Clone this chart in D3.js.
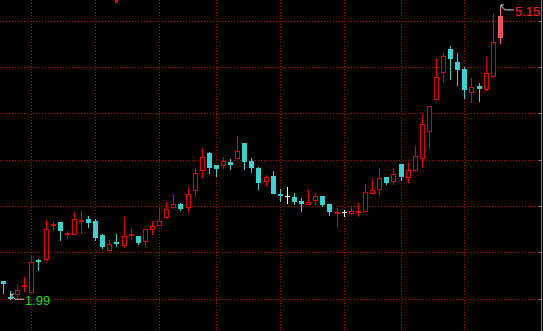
<!DOCTYPE html>
<html>
<head>
<meta charset="utf-8">
<script src="https://cdn.jsdelivr.net/npm/d3@7"></script>
<style>
  html, body { margin: 0; padding: 0; background: #000; overflow: hidden; }
  svg { display: block; }
</style>
</head>
<body>
<div class="chart"></div>
<script>
// daily candles
const opens  = [2.20,2.03,2.06,2.14,2.08,2.42,2.44,2.80,2.83,2.70,2.71,2.85,2.87,2.85,2.69,2.53,2.62,2.59,2.69,2.68,2.63,2.76,2.80,2.89,3.00,3.03,3.00,3.18,3.39,3.58,3.45,3.45,3.48,3.53,3.69,3.49,3.42,3.28,3.33,3.14,3.12,3.10,3.06,3.03,3.07,3.12,3.03,2.93,2.94,2.93,2.94,2.95,3.15,3.19,3.32,3.28,3.46,3.32,3.40,3.52,3.82,4.16,4.45,4.70,4.56,4.49,4.24,4.30,4.27,4.41,4.83];
const highs  = [2.20,2.09,2.15,2.24,2.47,2.44,2.86,2.83,2.83,2.74,2.94,2.95,2.90,2.87,2.70,2.64,2.70,2.89,2.77,2.68,2.76,2.84,2.99,3.05,3.14,3.04,3.21,3.42,3.63,3.59,3.45,3.54,3.51,3.76,3.69,3.52,3.43,3.34,3.38,3.19,3.21,3.15,3.09,3.18,3.15,3.12,3.03,2.99,2.96,3.00,3.04,3.24,3.30,3.42,3.32,3.42,3.46,3.47,3.65,4.00,4.09,4.60,4.66,4.73,4.66,4.51,4.39,4.33,4.61,5.08,5.15];
const lows   = [2.06,1.99,2.01,2.08,2.08,2.31,2.40,2.74,2.63,2.65,2.71,2.70,2.77,2.63,2.54,2.53,2.56,2.55,2.64,2.59,2.56,2.69,2.80,2.87,2.97,2.95,2.93,3.10,3.31,3.35,3.32,3.41,3.40,3.51,3.40,3.36,3.18,3.22,3.14,3.05,3.03,3.02,2.94,3.02,3.02,3.00,2.90,2.78,2.89,2.91,2.89,2.95,3.15,3.12,3.23,3.23,3.28,3.25,3.38,3.42,3.62,4.16,4.35,4.37,4.30,4.16,4.12,4.13,4.25,4.39,4.76];
const closes = [2.16,2.01,2.10,2.15,2.40,2.40,2.76,2.81,2.74,2.72,2.87,2.86,2.82,2.66,2.56,2.60,2.60,2.68,2.70,2.61,2.76,2.79,2.85,2.97,3.03,2.97,3.14,3.36,3.54,3.42,3.41,3.49,3.45,3.60,3.48,3.42,3.26,3.32,3.14,3.11,3.12,3.05,3.03,3.05,3.11,3.02,2.94,2.94,2.94,2.95,2.95,3.16,3.18,3.31,3.26,3.35,3.32,3.40,3.55,3.89,4.09,4.40,4.63,4.59,4.47,4.26,4.29,4.27,4.44,4.78,5.06];

const priceTicks = [2.0, 2.5, 3.0, 3.5, 4.0, 4.5, 5.0];
const monthStarts = [4, 13, 22, 30, 39, 48, 56, 65];  // day index of each month's first bar
const flagDays = [16];

const width = 543, height = 331;
const axisX = 541.5;
const upColor = '#e40000', downColor = '#3fcfcf', flatColor = '#ffffff';
const gridColor = '#b40000';

const data = opens.map((o, i) => ({i, o, h: highs[i], l: lows[i], c: closes[i]}));
const lastIdx = data.length - 1;

const x = d3.scaleLinear().domain([0, lastIdx]).range([2.9, 499.9]);
const y = d3.scaleLinear().domain([2, 5]).range([299.3, 21.3]);
const px = v => Math.round(v) + 0.5;

const svg = d3.select('.chart').append('svg')
    .attr('width', width)
    .attr('height', height)
    .style('background', '#000');

// grid
const grid = svg.append('g').attr('class', 'grid')
    .attr('stroke', gridColor)
    .attr('stroke-dasharray', '1,2');

grid.selectAll('.hline')
  .data(priceTicks)
  .enter().append('line')
    .attr('class', 'hline')
    .attr('x1', 0).attr('x2', axisX)
    .attr('y1', d => Math.floor(y(d)) + 0.5)
    .attr('y2', d => Math.floor(y(d)) + 0.5);

grid.selectAll('.vline')
  .data(monthStarts)
  .enter().append('line')
    .attr('class', 'vline')
    .attr('x1', d => px(x(d))).attr('x2', d => px(x(d)))
    .attr('y1', 0).attr('y2', height);

// right axis border with small ticks
const axis = svg.append('g').attr('stroke', '#808080');
axis.append('line')
    .attr('x1', axisX).attr('x2', axisX)
    .attr('y1', 0).attr('y2', height);
axis.selectAll('.tick')
  .data(priceTicks)
  .enter().append('line')
    .attr('x1', axisX - 3).attr('x2', axisX)
    .attr('y1', d => Math.floor(y(d)) + 0.5)
    .attr('y2', d => Math.floor(y(d)) + 0.5);

// event flags at the top edge
svg.selectAll('.flag')
  .data(flagDays)
  .enter().append('rect')
    .attr('x', d => Math.round(x(d)) - 1)
    .attr('y', 0)
    .attr('width', 3)
    .attr('height', 3)
    .attr('fill', upColor);

// candles
const candles = svg.append('g').attr('class', 'candles')
  .selectAll('g')
  .data(data)
  .enter().append('g');

candles.each(function (d) {
  const g = d3.select(this);
  const cx = px(x(d.i));
  const top = Math.round(y(Math.max(d.o, d.c)));
  const bot = Math.round(y(Math.min(d.o, d.c)));
  const yh = Math.round(y(d.h)), yl = Math.round(y(d.l));

  if (d.i === lastIdx) {
    g.append('line').attr('x1', cx).attr('x2', cx).attr('y1', yh).attr('y2', yl)
        .attr('stroke', '#ee6a6a');
    g.append('rect')
        .attr('x', cx - 2).attr('y', top + 0.5)
        .attr('width', 4).attr('height', Math.max(bot - top, 1))
        .attr('fill', '#e05252').attr('stroke', '#ee6a6a');
  } else if (d.c > d.o) {
    g.append('line').attr('x1', cx).attr('x2', cx).attr('y1', yh).attr('y2', top)
        .attr('stroke', upColor);
    g.append('line').attr('x1', cx).attr('x2', cx).attr('y1', bot).attr('y2', yl)
        .attr('stroke', upColor);
    g.append('rect')
        .attr('x', cx - 2).attr('y', top + 0.5)
        .attr('width', 4).attr('height', Math.max(bot - top, 1))
        .attr('fill', '#000').attr('stroke', upColor);
  } else if (d.c < d.o) {
    g.append('line').attr('x1', cx).attr('x2', cx).attr('y1', yh).attr('y2', yl)
        .attr('stroke', downColor);
    g.append('rect')
        .attr('x', cx - 2.5).attr('y', top)
        .attr('width', 5).attr('height', Math.max(bot - top, 2))
        .attr('fill', downColor);
  } else {
    g.append('line').attr('x1', cx).attr('x2', cx).attr('y1', yh).attr('y2', yl)
        .attr('stroke', flatColor);
    g.append('line').attr('x1', cx - 2.5).attr('x2', cx + 2.5)
        .attr('y1', top + 0.5).attr('y2', top + 0.5)
        .attr('stroke', flatColor);
  }
});

// highest / lowest price markers
const hiIdx = d3.maxIndex(highs), loIdx = d3.minIndex(lows);
const marks = [
  {i: hiIdx, v: highs[hiIdx], color: '#ff2020', isHigh: true},
  {i: loIdx, v: lows[loIdx], color: '#22dd22', isHigh: false}
];

const markG = svg.append('g').selectAll('g')
  .data(marks)
  .enter().append('g');

markG.each(function (d) {
  const g = d3.select(this);
  const cx = x(d.i);
  const yv = y(d.v);
  const ay = d.isHigh ? yv + 2.5 : yv - 1;
  const tip = [cx + 1, ay - 5];
  g.append('path')
      .attr('d', `M${tip[0]},${tip[1]}L${cx + 5},${ay}L${cx + 14},${ay}` +
                 `M${tip[0]},${tip[1]}l3,0M${tip[0]},${tip[1]}l0,3`)
      .attr('fill', 'none')
      .attr('stroke', '#d0d0d0');
  g.append('text')
      .attr('x', cx + 15)
      .attr('y', d.isHigh ? yv + 9 : yv + 5)
      .attr('fill', d.color)
      .attr('font-family', 'Liberation Sans, Arial, sans-serif')
      .attr('font-size', 13)
      .text(d3.format('.2f')(d.v));
});
</script>
</body>
</html>
